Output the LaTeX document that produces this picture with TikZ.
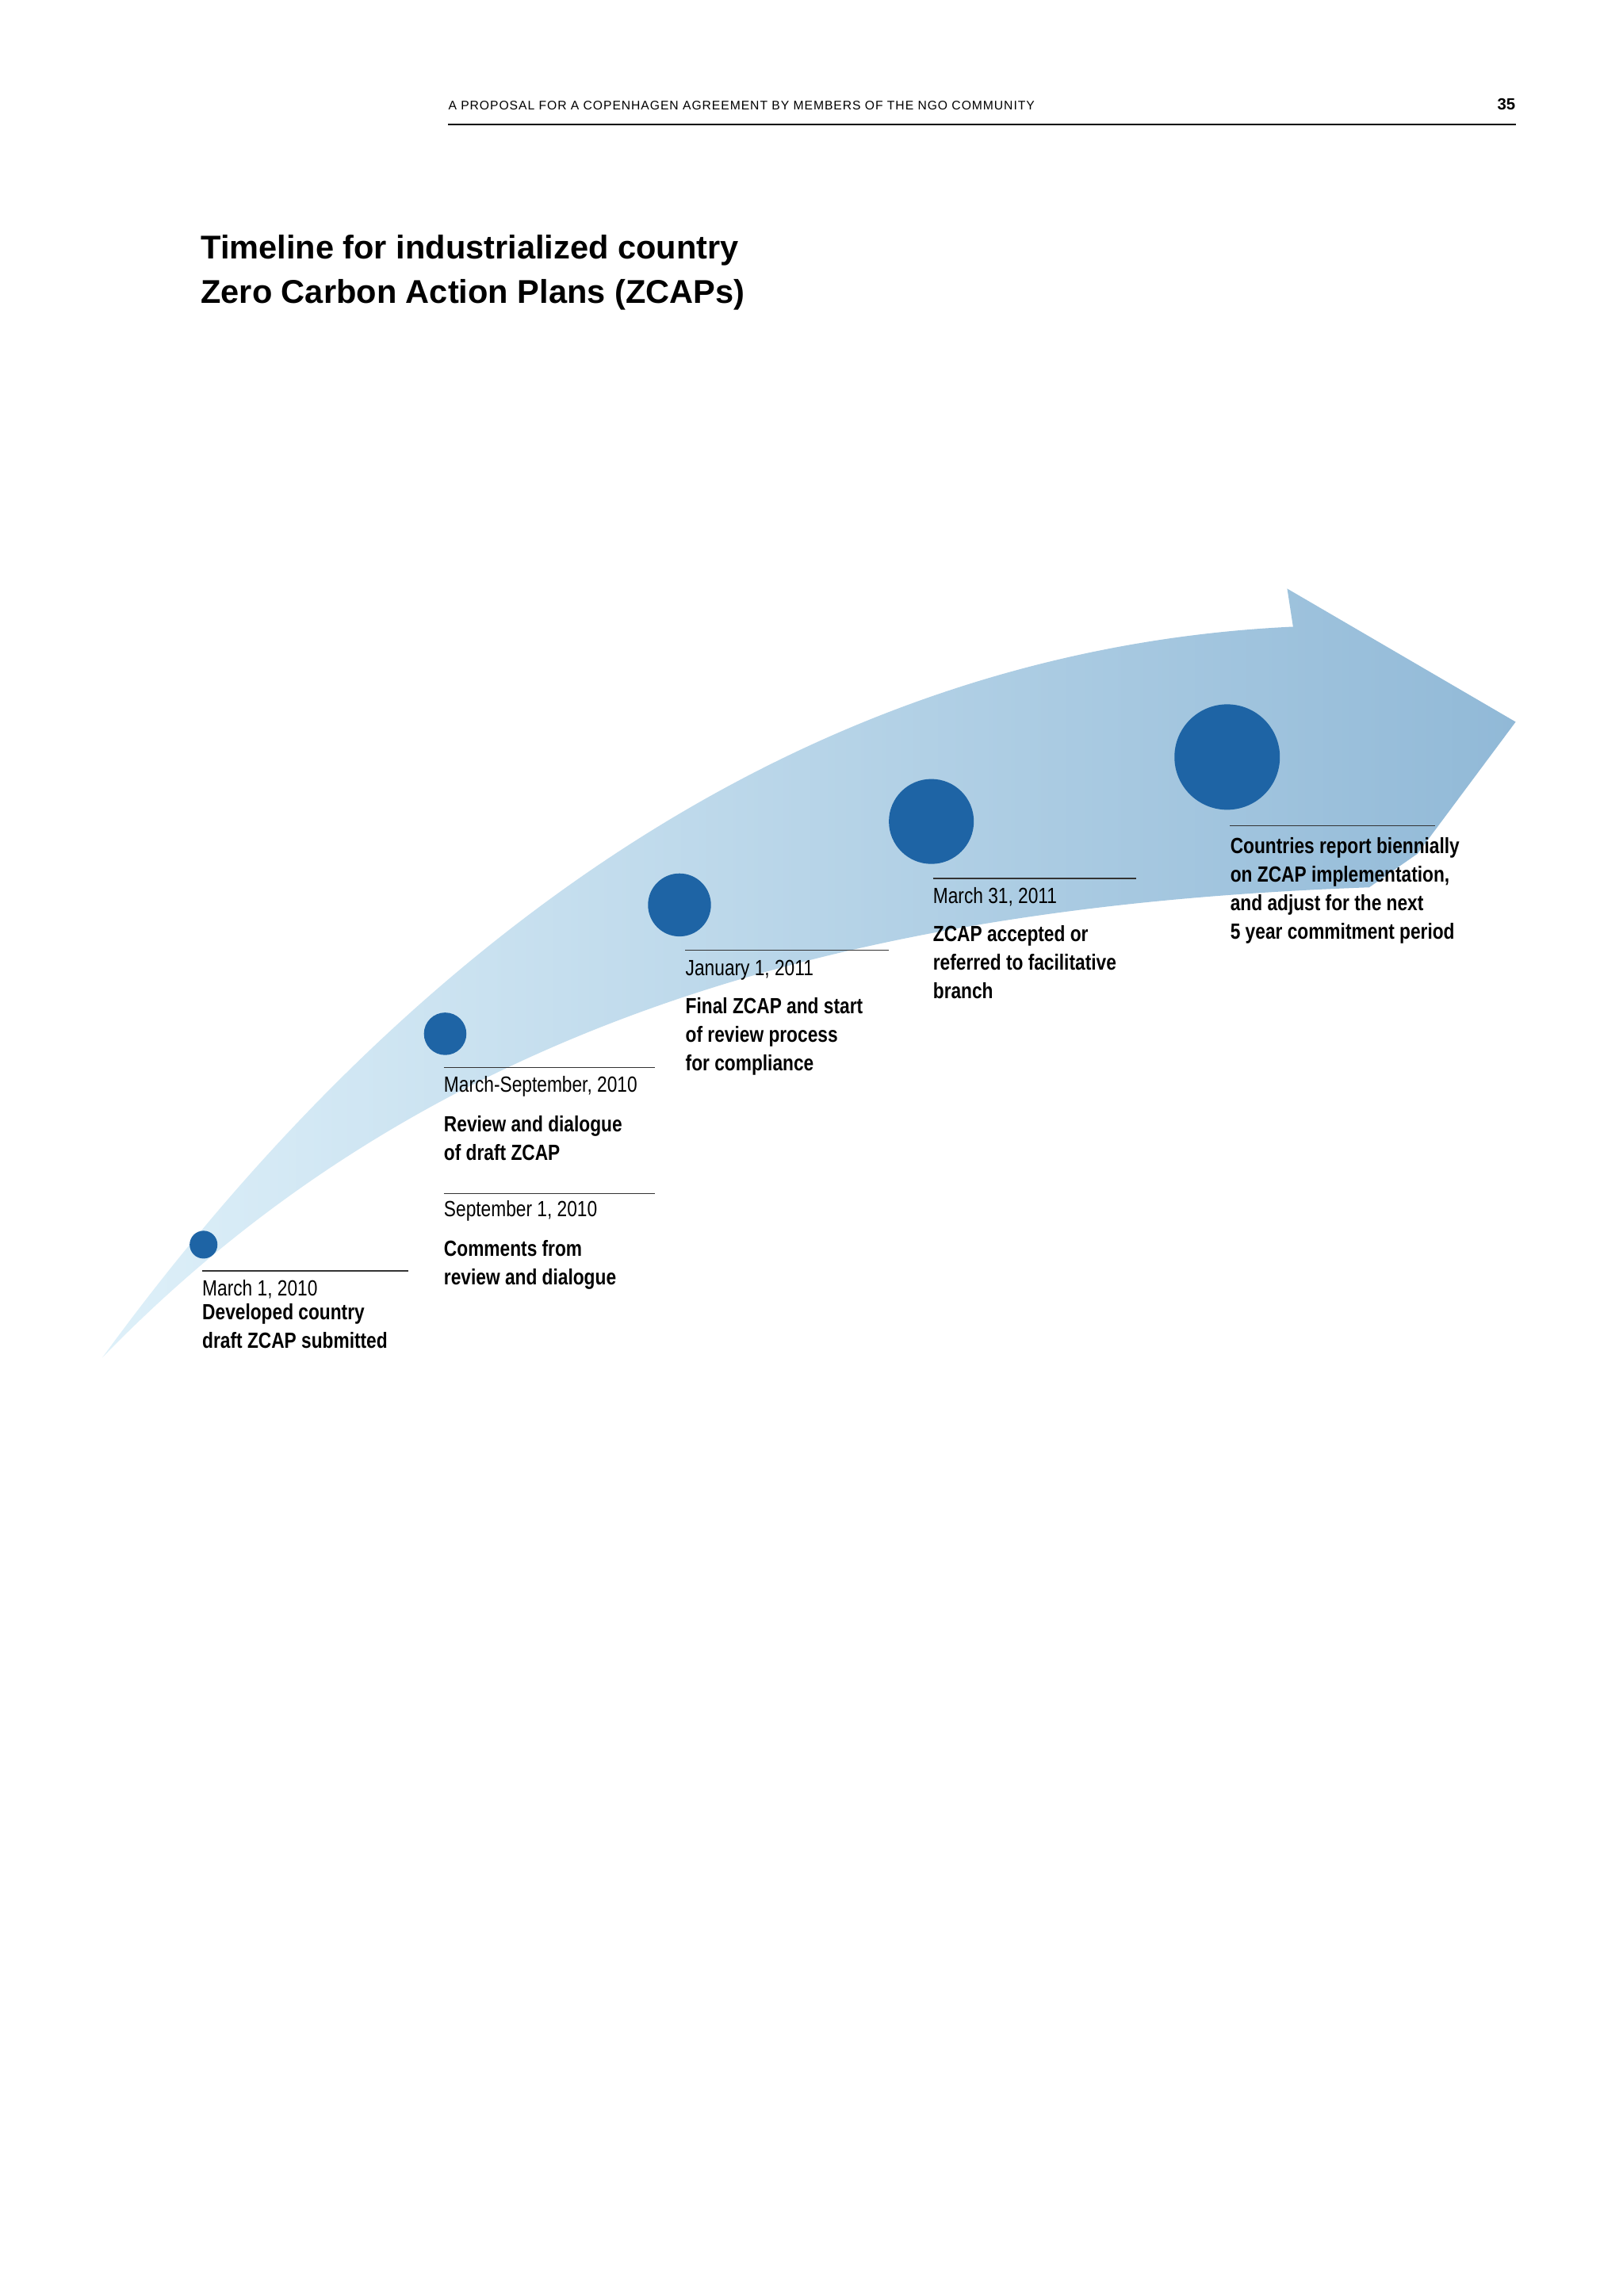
\documentclass[tikz,border=0pt]{standalone}
\usepackage{fontspec}
\setmainfont{Liberation Sans}
\newfontfamily\cond[FakeStretch=0.82]{Liberation Sans}
\begin{document}
\begin{tikzpicture}[x=1pt,y=-1pt,
  dot/.style={fill=dotblue,draw=none},
  rule/.style={draw=black!80,line width=0.8pt},
  datetxt/.style={anchor=base west,inner sep=0pt,font=\cond\fontsize{15}{19.5}\selectfont},
  desctxt/.style={anchor=north west,inner sep=0pt,align=left,font=\cond\bfseries\fontsize{15}{19.5}\selectfont}]
\definecolor{dotblue}{RGB}{30,100,165}
\definecolor{lightc}{RGB}{222,240,249}
\definecolor{darkc}{RGB}{145,185,215}
\useasboundingbox[fill=white] (0,0) rectangle (1108,1568);
% header
\node[anchor=base west,inner sep=0pt,font=\fontsize{8.5}{10}\selectfont] (hdr) at (306,75) {\addfontfeature{LetterSpace=6}A PROPOSAL FOR A COPENHAGEN AGREEMENT BY MEMBERS OF THE NGO COMMUNITY};
\node[anchor=base east,inner sep=0pt,font=\bfseries\fontsize{11}{12}\selectfont] (pg) at (1035,75) {35};
\draw[line width=0.8pt] (306,85) -- (1035,85);
% title
\node[anchor=base west,inner sep=0pt,align=left,font=\bfseries\fontsize{22.5}{30}\selectfont] (title) at (137,177) {Timeline for industrialized country};
\node[anchor=base west,inner sep=0pt,font=\bfseries\fontsize{22.5}{30}\selectfont] (title2) at (137,207) {Zero Carbon Action Plans (ZCAPs)};
% arrow
\shade[left color=lightc,right color=darkc,shading angle=90]
 (70,927) .. controls (250,680) and (520,445) .. (883,428)
 -- (879,402) -- (1035,493) -- (968,583) -- (935,606)
 .. controls (600,618) and (300,690) .. (70,927) -- cycle;
% dots
\fill[dot] (139,850) circle (9.5);
\fill[dot] (304,706) circle (14.5);
\fill[dot] (464,618) circle (21.5);
\fill[dot] (636,561) circle (29);
\fill[dot] (838,517) circle (36);
% labels
\draw[rule] (138,868) -- (279,868);
\node[datetxt] (d1) at (138,885) {March 1, 2010};
\node[desctxt] (t1) at (138,890) {Developed country\\draft ZCAP submitted};
\draw[rule] (303,729) -- (447,729);
\node[datetxt] (d2) at (303,746) {March-September, 2010};
\node[desctxt] (t2) at (303,762) {Review and dialogue\\of draft ZCAP};
\draw[rule] (303,815) -- (447,815);
\node[datetxt] (d3) at (303,831) {September 1, 2010};
\node[desctxt] (t3) at (303,847) {Comments from\\review and dialogue};
\draw[rule] (468,649) -- (607,649);
\node[datetxt] (d4) at (468,666) {January 1, 2011};
\node[desctxt] (t4) at (468,681) {Final ZCAP and start\\of review process\\for compliance};
\draw[rule] (637,600) -- (776,600);
\node[datetxt] (d5) at (637,617) {March 31, 2011};
\node[desctxt] (t5) at (637,632) {ZCAP accepted or\\referred to facilitative\\branch};
\draw[rule] (840,564) -- (980,564);
\node[desctxt] (t6) at (840,572) {Countries report biennially\\on ZCAP implementation,\\and adjust for the next\\5 year commitment period};
\end{tikzpicture}
\end{document}
